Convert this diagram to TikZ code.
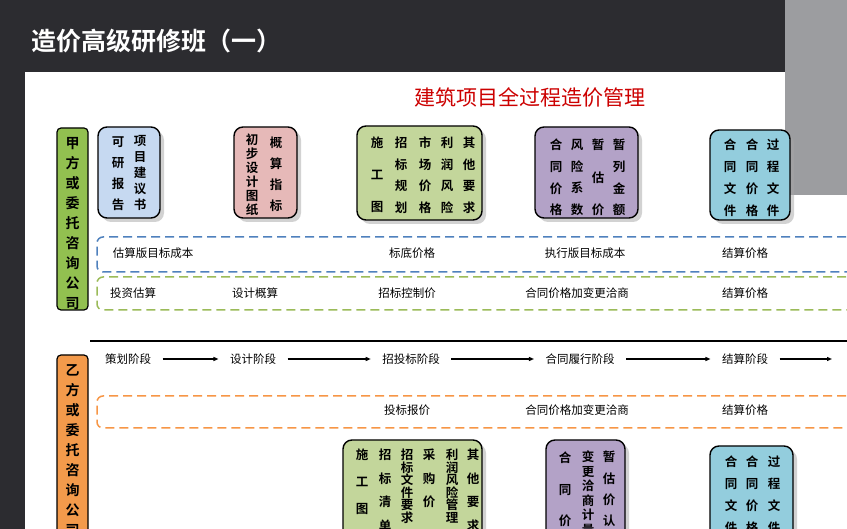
\documentclass[tikz,border=0pt]{standalone}
\usepackage{fontspec}
\setmainfont{Noto Sans CJK SC}
\newfontfamily\cjkb{Noto Sans CJK SC Bold}
\usetikzlibrary{shadows,arrows.meta}
\definecolor{pagebg}{HTML}{2C2C30}
\definecolor{sidegray}{HTML}{9C9DA0}
\definecolor{bxblue}{HTML}{C6D9F1}
\definecolor{bxpink}{HTML}{E6B9B8}
\definecolor{bxgreen}{HTML}{C3D69B}
\definecolor{bxpurple}{HTML}{B3A2C7}
\definecolor{bxcyan}{HTML}{93CDDD}
\definecolor{lanegreen}{HTML}{92C050}
\definecolor{laneorange}{HTML}{F39A4B}
\definecolor{dashblue}{HTML}{4F81BD}
\definecolor{dashgreen}{HTML}{9BBB59}
\definecolor{dashorange}{HTML}{F79646}
\tikzset{
  docbox/.style={draw=black, line width=1.4pt, rounded corners=9pt,
    drop shadow={shadow xshift=4pt, shadow yshift=-4pt, fill=black!35}},
  lane/.style={draw=black, line width=1.2pt, rounded corners=4pt},
  vtxt/.style={align=center, inner sep=0pt, anchor=north,
    font=\cjkb\fontsize{12.5}{#1}\selectfont},
  band/.style={line width=1.5pt, dash pattern=on 9pt off 5pt, rounded corners=6pt},
  bandtxt/.style={font=\fontsize{11.5}{13}\selectfont},
  stage/.style={font=\fontsize{11.5}{13}\selectfont}
}
\begin{document}
\begin{tikzpicture}[x=1pt,y=-1pt]
\useasboundingbox (0,0) rectangle (847,529);
\fill[pagebg] (0,0) rectangle (847,529);
\fill[white] (25,72) rectangle (847,529);
\fill[sidegray] (785,0) rectangle (847,195);
\node[text=white, font=\cjkb\fontsize{25}{27}\selectfont, anchor=west] (title) at (28,41) {造价高级研修班（一）};
\node[text=red!80!black, font=\fontsize{21}{23}\selectfont] (head) at (530,97) {建筑项目全过程造价管理};

% side lanes
\filldraw[lane, fill=lanegreen] (57,128) rectangle (88,310);
\node[vtxt=18, font=\cjkb\fontsize{14}{20}\selectfont] (laneA) at (72.5,137) {甲\\方\\或\\委\\托\\咨\\询\\公\\司};
\filldraw[lane, fill=laneorange] (57,355) rectangle (88,545);
\node[vtxt=18, font=\cjkb\fontsize{14}{20}\selectfont] (laneB) at (72.5,364) {乙\\方\\或\\委\\托\\咨\\询\\公\\司};

% upper documents
\filldraw[docbox, fill=bxblue] (98,127) rectangle (160,218);
\node[vtxt=21] (a1) at (118,137) {可\\研\\报\\告};
\node[vtxt=16] (a2) at (140,135) {项\\目\\建\\议\\书};

\filldraw[docbox, fill=bxpink] (234,127) rectangle (297,218);
\node[vtxt=14] (b1) at (252,134) {初\\步\\设\\计\\图\\纸};
\node[vtxt=21] (b2) at (276,137) {概\\算\\指\\标};

\filldraw[docbox, fill=bxgreen] (357,126) rectangle (482,220);
\node[vtxt=32] (c1) at (377,137) {施\\工\\图};
\node[vtxt=21.5] (c2) at (401,137) {招\\标\\规\\划};
\node[vtxt=21.5] (c3) at (425,137) {市\\场\\价\\格};
\node[vtxt=21.5] (c4) at (447,137) {利\\润\\风\\险};
\node[vtxt=21.5] (c5) at (469,137) {其\\他\\要\\求};

\filldraw[docbox, fill=bxpurple] (535,127) rectangle (638,218);
\node[vtxt=21.7] (d1) at (556,139) {合\\同\\价\\格};
\node[vtxt=21.7] (d2) at (577,139) {风\\险\\系\\数};
\node[vtxt=32.5] (d3) at (598,139) {暂\\估\\价};
\node[vtxt=21.7] (d4) at (619,139) {暂\\列\\金\\额};

\filldraw[docbox, fill=bxcyan] (710,130) rectangle (790,220);
\node[vtxt=22] (e1) at (730,139) {合\\同\\文\\件};
\node[vtxt=22] (e2) at (752,139) {合\\同\\价\\格};
\node[vtxt=22] (e3) at (773,139) {过\\程\\文\\件};

% price bands
\draw[band, draw=dashblue] (860,237) -- (97,237) -- (97,272) -- (860,272);
\node[bandtxt] (p1) at (153,253) {估算版目标成本};
\node[bandtxt] (p2) at (412,253) {标底价格};
\node[bandtxt] (p3) at (585,253) {执行版目标成本};
\node[bandtxt] (p4) at (745,253) {结算价格};
\draw[band, draw=dashgreen] (860,277) -- (97,277) -- (97,310) -- (860,310);
\node[bandtxt] (q1) at (133,293) {投资估算};
\node[bandtxt] (q2) at (255,293) {设计概算};
\node[bandtxt] (q3) at (407,293) {招标控制价};
\node[bandtxt] (q4) at (577,293) {合同价格加变更洽商};
\node[bandtxt] (q5) at (745,293) {结算价格};

\draw[line width=2pt] (90,341) -- (847,341);

% stages
\node[stage] (s1) at (128,359) {策划阶段};
\node[stage] (s2) at (253,359) {设计阶段};
\node[stage] (s3) at (411,359) {招投标阶段};
\node[stage] (s4) at (580,359) {合同履行阶段};
\node[stage] (s5) at (745,359) {结算阶段};
\coordinate (s6) at (840,359);
\foreach \u/\v in {s1/s2,s2/s3,s3/s4,s4/s5,s5/s6}
  \draw[-{Triangle[length=5pt,width=4pt]}, line width=1.2pt, shorten <=8pt, shorten >=8pt] (\u) -- (\v);

\draw[band, draw=dashorange] (860,396) -- (97,396) -- (97,428) -- (860,428);
\node[bandtxt] (r1) at (407,410) {投标报价};
\node[bandtxt] (r2) at (577,410) {合同价格加变更洽商};
\node[bandtxt] (r3) at (745,410) {结算价格};

% lower documents
\filldraw[docbox, fill=bxgreen] (343,440) rectangle (482,560);
\node[vtxt=27] (f1) at (362,449) {施\\工\\图};
\node[vtxt=23.5] (f2) at (385,449) {招\\标\\清\\单};
\node[vtxt=12.5] (f3) at (407,449) {招\\标\\文\\件\\要\\求};
\node[vtxt=23.5] (f4) at (429,449) {采\\购\\价};
\node[vtxt=12.5] (f5) at (452,449) {利\\润\\风\\险\\管\\理};
\node[vtxt=23.5] (f6) at (473,449) {其\\他\\要\\求};

\filldraw[docbox, fill=bxpurple] (546,440) rectangle (625,560);
\node[vtxt=31.5] (g1) at (565,452) {合\\同\\价};
\node[vtxt=14.5] (g2) at (588,451) {变\\更\\洽\\商\\计\\量};
\node[vtxt=21.3] (g3) at (609,451) {暂\\估\\价\\认\\价};

\filldraw[docbox, fill=bxcyan] (710,446) rectangle (793,560);
\node[vtxt=22] (h1) at (731,456) {合\\同\\文\\件};
\node[vtxt=22] (h2) at (752,456) {合\\同\\价\\格};
\node[vtxt=22] (h3) at (774,456) {过\\程\\文\\件};
\end{tikzpicture}
\end{document}
